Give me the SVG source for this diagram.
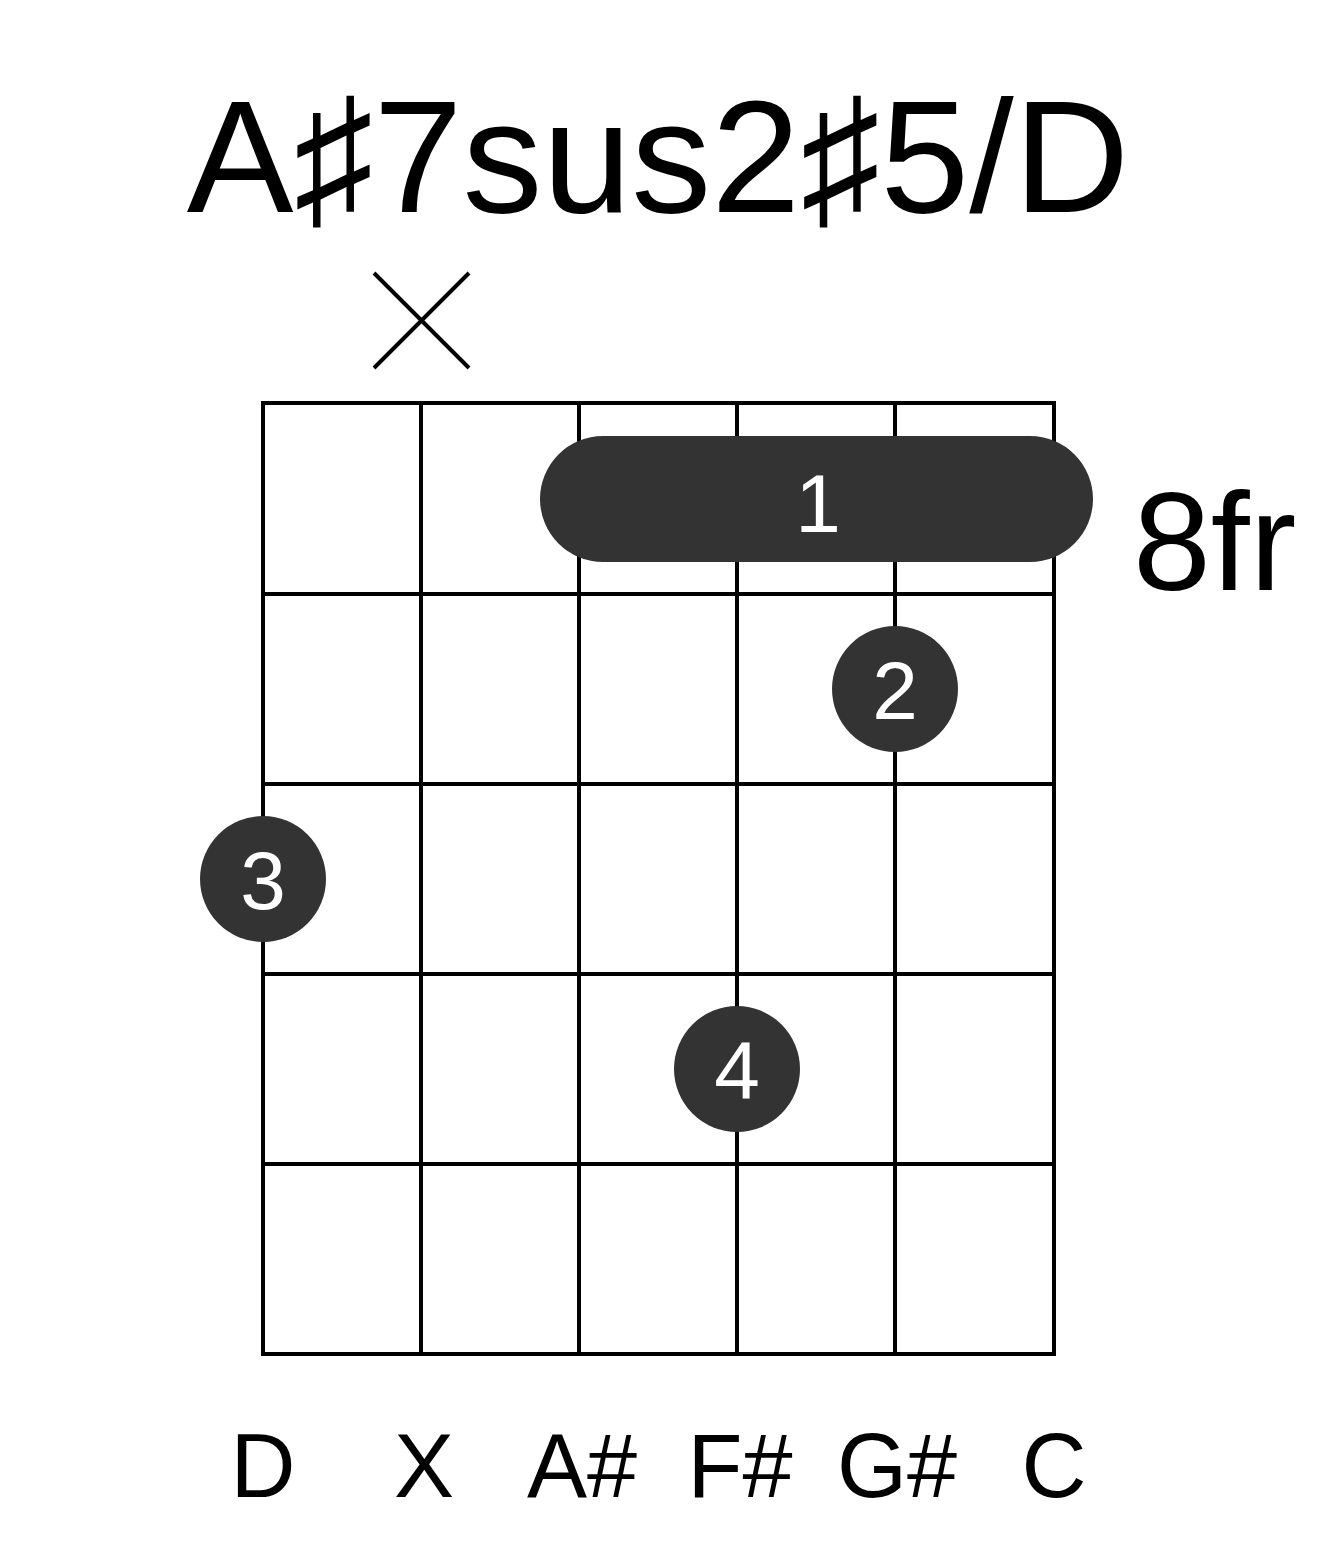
<svg xmlns="http://www.w3.org/2000/svg" width="1317" height="1551" viewBox="0 0 1317 1551">
<style>
.g{stroke:#000;stroke-width:4;fill:none}
.d{fill:#333}
.w{fill:#fff;font-family:"Liberation Sans",Arial,sans-serif;font-size:82px;text-anchor:middle}
.t{font-family:"Liberation Sans",Arial,sans-serif;fill:#000}
.n{font-size:90px;text-anchor:middle}
</style>
<rect width="1317" height="1551" fill="#fff"/>
<text class="t" x="658" y="212" font-size="160" text-anchor="middle">A♯7sus2♯5/D</text>
<path class="g" d="M374 273L469 368M469 273L374 368" stroke-width="3"/>
<g id="grid" class="g">
<rect x="263" y="403" width="791" height="951"/>
<path d="M421 403V1354M579 403V1354M737 403V1354M895 403V1354M263 594H1054M263 784H1054M263 974H1054M263 1164H1054"/>
</g>
<g id="barre"><rect class="d" x="540" y="436" width="553" height="126" rx="63"/><text class="w" x="818" y="532">1</text></g>
<g id="f2"><circle class="d" cx="895" cy="689" r="63"/><text class="w" x="895" y="719">2</text></g>
<g id="f3"><circle class="d" cx="263" cy="879" r="63"/><text class="w" x="263" y="909">3</text></g>
<g id="f4"><circle class="d" cx="737" cy="1069" r="63"/><text class="w" x="737" y="1099">4</text></g>
<text class="t" x="1133" y="590" font-size="140">8fr</text>
<g class="t n">
<text x="263" y="1497">D</text><text x="424" y="1497">X</text><text x="582" y="1497">A#</text><text x="740" y="1497">F#</text><text x="897" y="1497">G#</text><text x="1054" y="1497">C</text>
</g>
</svg>
